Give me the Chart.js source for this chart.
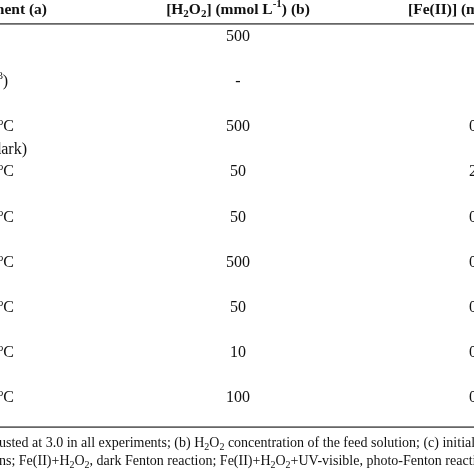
<!DOCTYPE html>
<html>
<head>
<meta charset="utf-8">
<script src="https://cdn.jsdelivr.net/npm/chart.js@4"></script>
<style>
  html, body { margin: 0; padding: 0; background: #fff; }
  #wrap { width: 474px; height: 474px; }
</style>
</head>
<body>
<div id="wrap"><canvas id="myChart"></canvas></div>
<script>
// Table contents (rows 0..8)
const h2o2Values = ['500', '-', '500', '50', '50', '500', '50', '10', '100'];
const feValues = ['', '', '0.5', '2.5', '0.5', '0.5', '0.5', '0.05', '0.05'];
const experimentLabels = ['', ')', '25ºC', '25ºC', '25ºC', '25ºC', '25ºC', '25ºC', '25ºC'];
const experimentSecond = ['', '', '(dark)', '', '', '', '', '', ''];
const footnotes = [
  [['usted at 3.0 in all experiments; (b) H'], ['2', 'sub'], ['O'], ['2', 'sub'], [' concentration of the feed solution; (c) initial']],
  [['ns; Fe(II)+H'], ['2', 'sub'], ['O'], ['2', 'sub'], [', dark Fenton reaction; Fe(II)+H'], ['2', 'sub'], ['O'], ['2', 'sub'], ['+UV-visible, photo-Fenton reaction']]
];
const headerH2O2 = [['[H'], ['2', 'sub'], ['O'], ['2', 'sub'], ['] (mmol L'], ['-1', 'sup'], [') (b)']];

const rowIdx = h2o2Values.map((v, i) => i);

const drawRich = (ctx, parts, x, y, size, weight, align) => {
  const big = weight + ' ' + size + 'px "Liberation Serif"';
  const small = weight + ' ' + Math.round(size * 0.7) + 'px "Liberation Serif"';
  let w = 0;
  parts.forEach(p => { ctx.font = p[1] ? small : big; w += ctx.measureText(p[0]).width; });
  let cx = align === 'center' ? x - w / 2 : (align === 'right' ? x - w : x);
  ctx.textAlign = 'left';
  ctx.textBaseline = 'middle';
  parts.forEach(p => {
    ctx.font = p[1] ? small : big;
    const dy = p[1] === 'sub' ? size * 0.25 : (p[1] === 'sup' ? -size * 0.35 : 0);
    ctx.fillText(p[0], cx, y + dy);
    cx += ctx.measureText(p[0]).width;
  });
};

const tablePlugin = {
  id: 'tableText',
  afterDatasetsDraw(chart) {
    const ctx = chart.ctx;
    const xs = chart.scales.x, ys = chart.scales.y;
    ctx.save();
    ctx.fillStyle = '#111';
    // headers
    drawRich(ctx, [['Experiment (a)']], xs.getPixelForValue(47), ys.getPixelForValue(-0.6), 15.5, 'bold', 'right');
    drawRich(ctx, headerH2O2, xs.getPixelForValue(238), ys.getPixelForValue(-0.6), 15.5, 'bold', 'center');
    drawRich(ctx, [['[Fe(II)] (mmol L']], xs.getPixelForValue(408), ys.getPixelForValue(-0.6), 15.5, 'bold', 'left');
    rowIdx.forEach(i => {
      const y = ys.getPixelForValue(i);
      drawRich(ctx, [[h2o2Values[i]]], xs.getPixelForValue(238), y, 16, 'normal', 'center');
      if (feValues[i]) drawRich(ctx, [[feValues[i]]], xs.getPixelForValue(469), y, 16, 'normal', 'left');
      if (experimentLabels[i]) drawRich(ctx, [[experimentLabels[i]]], xs.getPixelForValue(i === 1 ? 8 : 14), y, 16, 'normal', 'right');
      if (i === 1) drawRich(ctx, [['3', 'sup']], xs.getPixelForValue(3), y, 16, 'normal', 'right');
      if (experimentSecond[i]) drawRich(ctx, [[experimentSecond[i]]], xs.getPixelForValue(27), y + 23, 16, 'normal', 'right');
    });
    footnotes.forEach((f, k) => {
      drawRich(ctx, f, xs.getPixelForValue(-1), ys.getPixelForValue(9.02 + k * 0.4), 14, 'normal', 'left');
    });
    ctx.restore();
  }
};

const data = {
  datasets: [
    { data: [{ x: 0, y: -0.29 }, { x: 474, y: -0.29 }], borderColor: '#666', borderWidth: 1.8, pointRadius: 0 },
    { data: [{ x: 0, y: 8.65 }, { x: 474, y: 8.65 }], borderColor: '#666', borderWidth: 1.8, pointRadius: 0 }
  ]
};

const config = {
  type: 'line',
  data,
  options: {
    responsive: true,
    maintainAspectRatio: false,
    animation: false,
    layout: { padding: 0 },
    plugins: { legend: { display: false }, tooltip: { enabled: false } },
    scales: {
      x: { type: 'linear', min: 0, max: 474, display: false },
      y: { type: 'linear', min: -0.82, max: 9.69, reverse: true, display: false }
    }
  },
  plugins: [tablePlugin]
};

var myChart = new Chart(document.getElementById('myChart'), config);
</script>
</body>
</html>
